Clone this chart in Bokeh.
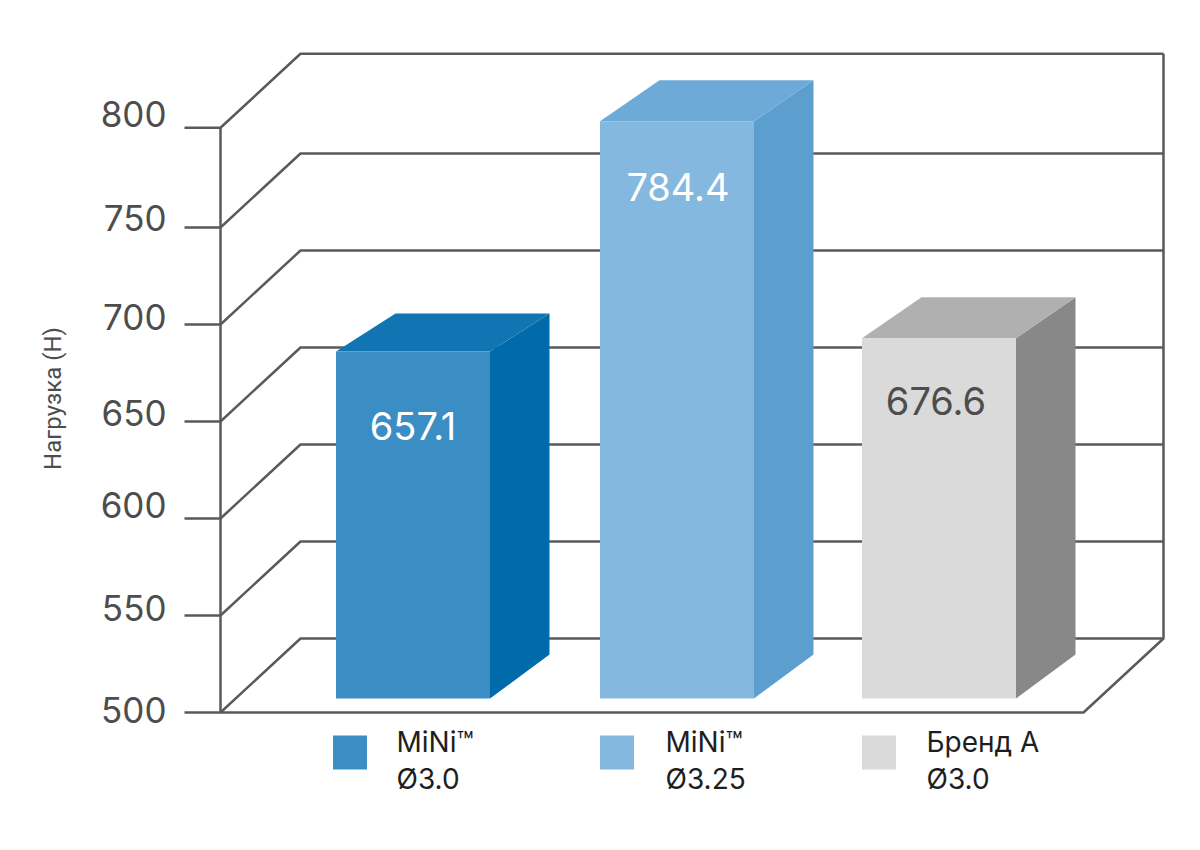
import math
from bokeh.embed import file_html
from bokeh.resources import INLINE
from bokeh.plotting import figure
from bokeh.models import Range1d
from bokeh.core.properties import value

# ---- data ----
tick_values = [500, 550, 600, 650, 700, 750, 801.4]   # the top tick sits slightly off the regular step
tick_labels = ["500", "550", "600", "650", "700", "750", "800"]
bar_labels = ["657.1", "784.4", "676.6"]
bar_heights = [686.1, 804.8, 692.9]                    # drawn heights on the axis scale
legend_line1 = ["MiNi\u2122", "MiNi\u2122", "Бренд А"]
legend_line2 = ["Ø3.0", "Ø3.25", "Ø3.0"]
axis_title = "Нагрузка (Н)"

# ---- styles and layout ----
front_colors = ["#3B8EC4", "#85B8DE", "#DADADA"]
top_colors = ["#1275B3", "#6DAAD8", "#B0B0B0"]
side_colors = ["#006BAB", "#5C9FCF", "#888888"]
label_colors = ["#FFFFFF", "#FFFFFF", "#4D4D4D"]
LINE = "#5A5A5A"
TEXT = "#4D4D4D"
LEGEND_TEXT = "#1E1E1E"
FONT = "Inter"
TITLE_FONT = "Roboto"

PX = 1.94                      # pixels per axis unit
W, H = 1192, 842
floor_px = 712
x_tick, x_left, x_right_front = 184, 220, 1083
dx_wall, dy_wall = 80, 74
bar_left = [335.5, 599.5, 861.5]
bar_width = 154
bar_dx = 59.5
bar_dy_top = [38, 41, 41]
bar_base_px = 14
bar_back_base_px = 58
label_drop = [75, 66, 63]
label_shift = [0, 1, -3]
tick_label_nudge = [3, 8, 14, 9, 8, 10, 14]
legend_sq_x = [332.5, 599.5, 861.5]
legend_text_x = [396, 665, 926]
u = lambda px: px / PX

y0 = 500
p = figure(width=W, height=H, output_backend="svg", toolbar_location=None,
           x_range=Range1d(0, W),
           y_range=Range1d(y0 - u(H - floor_px), y0 + u(floor_px)),
           x_axis_location=None, y_axis_location=None, min_border_left=0, min_border_right=0,
           min_border_top=0, min_border_bottom=0, outline_line_color=None)
p.grid.visible = False

# wall, tick and floor lines
back_offset = u(dy_wall)
p.line([x_left, x_left], [tick_values[0], tick_values[-1]], line_color=LINE, line_width=2.5)
for t in tick_values:
    p.line([x_tick, x_left, x_left + dx_wall, x_left + dx_wall + 863],
           [t, t, t + back_offset, t + back_offset], line_color=LINE, line_width=2.5, line_join="round")
p.line([x_left, x_right_front, x_right_front + dx_wall, x_right_front + dx_wall],
       [y0, y0, y0 + back_offset, tick_values[-1] + back_offset], line_color=LINE, line_width=2.5)

# 3D bars
base = y0 + u(bar_base_px)
back_base = y0 + u(bar_back_base_px)
for i, h in enumerate(bar_heights):
    l = bar_left[i]
    r = l + bar_width
    dy = u(bar_dy_top[i])
    p.patch([r, r + bar_dx, r + bar_dx, r], [base, back_base, h + dy, h], fill_color=side_colors[i], line_color=None)
    p.patch([l, l + bar_dx, r + bar_dx, r], [h, h + dy, h + dy, h], fill_color=top_colors[i], line_color=None)
    p.quad(left=[l], right=[r], bottom=[base], top=[h], fill_color=front_colors[i], line_color=None)

# value labels
p.text(x=[bar_left[i] + bar_width / 2 + label_shift[i] for i in range(3)], y=bar_heights, text=bar_labels,
       y_offset=label_drop, text_color=label_colors, text_font=value(FONT), text_font_size="38px",
       text_align="center", text_baseline="middle")

# tick labels
p.text(x=[166] * len(tick_values), y=tick_values, text=tick_labels, y_offset=[-n for n in tick_label_nudge],
       text_color=TEXT, text_font=value(FONT), text_font_size="35px",
       text_align="right", text_baseline="middle")

# axis title
p.text(x=[52], y=[y0 + u(floor_px - 398)], text=[axis_title], angle=math.pi / 2,
       text_color=TEXT, text_font=value(TITLE_FONT), text_font_size="24px",
       text_align="center", text_baseline="middle")

# legend
sq_bottom, sq_top = y0 - u(769 - floor_px), y0 - u(735 - floor_px)
for i in range(3):
    p.quad(left=[legend_sq_x[i]], right=[legend_sq_x[i] + 34], bottom=[sq_bottom], top=[sq_top],
           fill_color=front_colors[i], line_color=None)
    p.text(x=[legend_text_x[i]], y=[y0 - u(741 - floor_px)], text=[legend_line1[i]], text_color=LEGEND_TEXT,
           text_font=value(FONT), text_font_size="28px", text_align="left", text_baseline="middle")
    p.text(x=[legend_text_x[i]], y=[y0 - u(778 - floor_px)], text=[legend_line2[i]], text_color=LEGEND_TEXT,
           text_font=value(FONT), text_font_size="28px", text_align="left", text_baseline="middle")

open("out.html", "w").write(file_html(p, INLINE))
